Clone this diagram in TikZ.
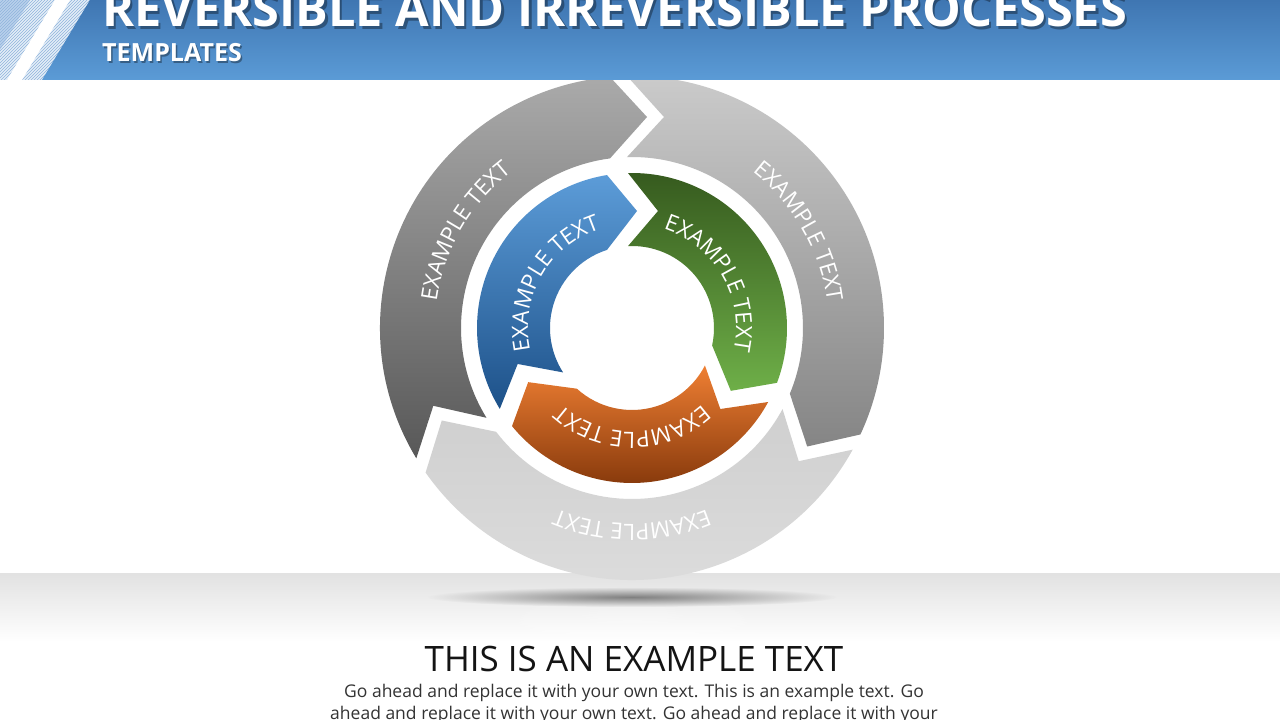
\documentclass[tikz,border=0pt]{standalone}
\usepackage{fontspec}
\setmainfont{Open Sans}
\usetikzlibrary{decorations.text,patterns,fadings}
\tikzfading[name=softoval, inner color=transparent!0, outer color=transparent!100]
\tikzfading[name=softdisk, inner color=transparent!40, outer color=transparent!100]

\definecolor{hdrtop}{HTML}{3F76B2}
\definecolor{hdrbot}{HTML}{5B9BD6}
\definecolor{stripebg}{HTML}{E4EEF8}
\definecolor{stripeln}{HTML}{8FB3DB}
\definecolor{stripeband}{HTML}{B9D1EC}
\definecolor{floortop}{HTML}{E2E2E2}
\definecolor{darkgrayT}{HTML}{AAAAAA}
\definecolor{darkgrayB}{HTML}{585858}
\definecolor{midgrayT}{HTML}{CBCBCB}
\definecolor{midgrayB}{HTML}{858585}
\definecolor{lightgrayT}{HTML}{CFCFCF}
\definecolor{lightgrayB}{HTML}{DEDEDE}
\definecolor{blueT}{HTML}{5C9CD8}
\definecolor{blueB}{HTML}{1D5189}
\definecolor{greenT}{HTML}{365A1E}
\definecolor{greenB}{HTML}{6EAF48}
\definecolor{orangeT}{HTML}{EF7F33}
\definecolor{orangeB}{HTML}{883A0C}
\definecolor{bodytext}{HTML}{333333}
\definecolor{headtext}{HTML}{141414}

\newcommand\segfont{\fontsize{22.5}{22.5}\selectfont}
\newcommand\titlefont{\fontsize{48.7}{48.7}\selectfont\bfseries}
\newcommand\subtitlefont{\fontsize{25}{25}\selectfont\bfseries}

% outer ring segment, #1 rotation, #2 top colour, #3 bottom colour
\newcommand\outerseg[3]{%
  \shade[top color=#2, bottom color=#3]
    ({95.01+#1}:252pt) -- ({85.93+#1}:211.53pt) -- ({97.39+#1}:171pt)
    arc[start angle={97.39+#1}, end angle={211.68+#1}, radius=171pt]
    -- ({201.38+#1}:213.41pt) -- ({211.14+#1}:252pt)
    arc[start angle={211.14+#1}, end angle={95.01+#1}, radius=252pt] -- cycle;}
% inner ring segment
\newcommand\innerseg[3]{%
  \shade[top color=#2, bottom color=#3]
    ({99.28+#1}:155pt) -- ({87.55+#1}:117.1pt) -- ({107.75+#1}:82pt)
    arc[start angle={107.75+#1}, end angle={212.80+#1}, radius=82pt]
    -- ({197.47+#1}:119.85pt) -- ({211.48+#1}:155pt)
    arc[start angle={211.48+#1}, end angle={99.28+#1}, radius=155pt] -- cycle;}
% curved label: #1 centre angle, #2 baseline radius, #3 half span
\newcommand\segtext[3]{%
  \path[decorate, decoration={text along path, text color=white,
      text align=center, text={|\segfont|EXAMPLE TEXT}}]
    ({#1+#3}:#2) arc[start angle={#1+#3}, end angle={#1-#3}, radius=#2];}

\begin{document}
\begin{tikzpicture}[x=1pt,y=1pt]
\useasboundingbox (0,0) rectangle (1280,720);
\clip (0,0) rectangle (1280,720);
\fill[white] (0,0) rectangle (1280,720);

% floor, reflection and shadow
\shade[top color=floortop, bottom color=white] (0,78) rectangle (1280,146);
\fill[white, path fading=softdisk] (632,40) ellipse [x radius=210pt, y radius=95pt];
\fill[black!50, path fading=softoval] (632,123) ellipse [x radius=205pt, y radius=10pt];

% cycle diagram
\begin{scope}[shift={(632,392)}]
  \outerseg{0}{darkgrayT}{darkgrayB}
  \outerseg{240}{midgrayT}{midgrayB}
  \outerseg{120}{lightgrayT}{lightgrayB}
  \innerseg{0}{blueT}{blueB}
  \innerseg{240}{greenT}{greenB}
  \innerseg{120}{orangeT}{orangeB}
  \segtext{150}{197pt}{45}
  \segtext{30}{197pt}{45}
  \segtext{270}{196pt}{45}
  \segtext{150}{104pt}{58}
  \segtext{30}{104pt}{58}
  \segtext{270}{104pt}{58}
\end{scope}

% header band
\fill[stripebg] (0,640) -- (42,640) -- (90,720) -- (0,720) -- cycle;
\fill[stripeband] (0,720) -- (30,720) -- (0,670) -- cycle;
\fill[pattern=north east lines, pattern color=stripeln] (0,640) -- (42,640) -- (90,720) -- (0,720) -- cycle;
\fill[white] (55,720) -- (70,720) -- (22,640) -- (7,640) -- cycle;
\shade[top color=hdrtop, bottom color=hdrbot] (42,640) -- (90,720) -- (1280,720) -- (1280,640) -- cycle;

\node[anchor=base west, inner sep=0, font=\titlefont, text=black, opacity=0.35] (titleshadow) at (104.5,690.5) {REVERSIBLE AND IRREVERSIBLE PROCESSES};
\node[anchor=base west, inner sep=0, font=\titlefont, text=white] (title) at (102,693) {REVERSIBLE AND IRREVERSIBLE PROCESSES};
\node[anchor=base west, inner sep=0, font=\subtitlefont, text=black, opacity=0.35] (subtitleshadow) at (103.5,656.5) {TEMPLATES};
\node[anchor=base west, inner sep=0, font=\subtitlefont, text=white] (subtitle) at (102,658) {TEMPLATES};

% bottom text
\node[anchor=base, inner sep=0, font=\fontsize{35}{35}\selectfont, text=headtext] (headline) at (634,48) {THIS IS AN EXAMPLE TEXT};
\node[anchor=base, inner sep=0, font=\fontsize{17.5}{17.5}\selectfont, text=bodytext] (para1) at (634,22) {Go ahead and replace it with your own text. This is an example text. Go};
\node[anchor=base, inner sep=0, font=\fontsize{17.5}{17.5}\selectfont, text=bodytext] (para2) at (634,0) {ahead and replace it with your own text. Go ahead and replace it with your};
\end{tikzpicture}
\end{document}
